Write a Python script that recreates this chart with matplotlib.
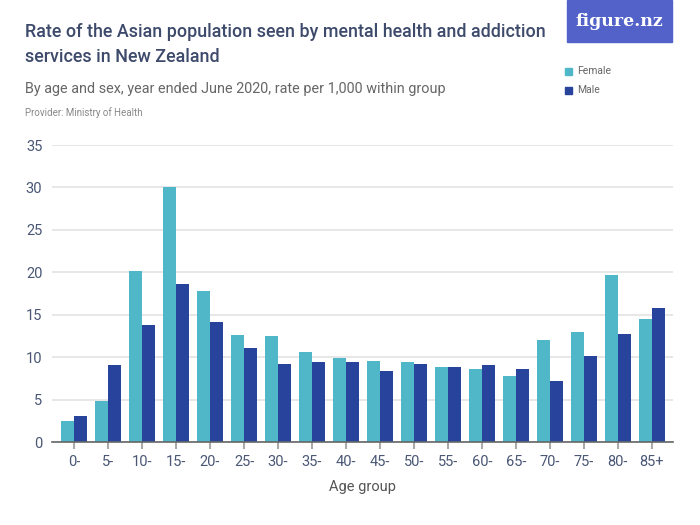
import matplotlib
matplotlib.use("Agg")
import matplotlib.pyplot as plt
import numpy as np
from matplotlib.patches import Rectangle

# Dados
grupos = ["0-", "5-", "10-", "15-", "20-", "25-", "30-", "35-", "40-",
          "45-", "50-", "55-", "60-", "65-", "70-", "75-", "80-", "85+"]
feminino = [2.5, 4.8, 20.2, 30.0, 17.8, 12.6, 12.5, 10.6, 9.9,
            9.5, 9.4, 8.9, 8.6, 7.8, 12.0, 13.0, 19.7, 14.5]
masculino = [3.1, 9.1, 13.8, 18.6, 14.1, 11.1, 9.2, 9.4, 9.4,
             8.4, 9.2, 8.8, 9.1, 8.6, 7.2, 10.1, 12.7, 15.8]

cor_fem = "#4fb7c7"
cor_masc = "#27439c"
cor_texto = "#3d4a6b"
plt.rcParams["font.family"] = ["Roboto", "DejaVu Sans"]

fig = plt.figure(figsize=(7, 5.25), dpi=100)
ax = fig.add_axes([0.0743, 0.158, 0.887, 0.5657])

x = np.arange(len(grupos))
largura = 0.38
ax.bar(x - largura / 2, feminino, largura, color=cor_fem, label="Female")
ax.bar(x + largura / 2, masculino, largura, color=cor_masc, label="Male")

ax.set_xlim(-0.65, len(grupos) - 0.38)
ax.set_ylim(0, 35)
ax.set_yticks(range(0, 36, 5))
ax.set_xticks(x)
ax.set_xticklabels(grupos)
ax.yaxis.grid(True, color="#e3e3e3", linewidth=1.2)
ax.set_axisbelow(True)
for lado in ["top", "right", "left"]:
    ax.spines[lado].set_visible(False)
ax.spines["bottom"].set_color("#666666")
ax.spines["bottom"].set_linewidth(1.2)
ax.tick_params(axis="y", length=0, pad=7, labelsize=10.5, labelcolor="#4a5775")
ax.tick_params(axis="x", length=5, width=1.5, color="#aaaaaa", pad=4,
               labelsize=10.5, labelcolor="#4a5775")
ax.set_xlabel("Age group", fontsize=10.5, color="#555555", labelpad=8)

# Títulos
fig.text(25 / 700, 1 - 37 / 525, "Rate of the Asian population seen by mental health and addiction",
         fontsize=12.9, color=cor_texto, weight="medium", va="baseline")
fig.text(25 / 700, 1 - 62 / 525, "services in New Zealand",
         fontsize=12.9, color=cor_texto, weight="medium", va="baseline")
fig.text(25 / 700, 1 - 93 / 525, "By age and sex, year ended June 2020, rate per 1,000 within group",
         fontsize=10.4, color="#666666", va="baseline")
fig.text(25 / 700, 1 - 116 / 525, "Provider: Ministry of Health",
         fontsize=7, color="#888888", va="baseline")

# Logo
fig.patches.append(Rectangle((567 / 700, 1 - 42 / 525), 105 / 700, 42 / 525,
                             transform=fig.transFigure, color="#5262c9"))
fig.text(619 / 700, 1 - 21 / 525, "figure.nz", fontsize=12.5, color="white",
         family=["DejaVu Serif"], weight="bold", ha="center", va="center")

# Legenda
fig.patches.append(Rectangle((565 / 700, 1 - 75 / 525), 7 / 700, 7 / 525,
                             transform=fig.transFigure, color=cor_fem))
fig.patches.append(Rectangle((565 / 700, 1 - 94 / 525), 7 / 700, 7 / 525,
                             transform=fig.transFigure, color=cor_masc))
fig.text(577 / 700, 1 - 71 / 525, "Female", fontsize=7.5, color="#666666", va="center")
fig.text(577 / 700, 1 - 90 / 525, "Male", fontsize=7.5, color="#666666", va="center")

fig.savefig("out.png", dpi=100)
plt.close()
